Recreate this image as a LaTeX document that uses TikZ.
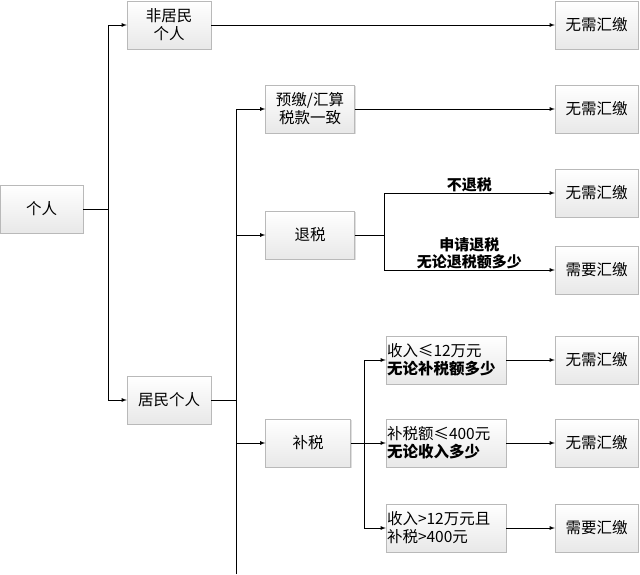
\documentclass[tikz,border=0pt]{standalone}
\usepackage{fontspec}
\setmainfont{Noto Sans CJK SC}
\usetikzlibrary{shapes,arrows,positioning,shadows}

\begin{document}
\begin{tikzpicture}[x=1pt, y=-1pt,
    box/.style={draw=gray!55, top color=white, bottom color=gray!18, minimum height=48pt, inner sep=1pt, align=center, font=\fontsize{15.5}{18}\selectfont, drop shadow={opacity=0.25, shadow xshift=1pt, shadow yshift=-1pt}},
    res/.style={box, minimum width=83pt},
    cond/.style={box, minimum width=120pt, text width=118pt, align=left},
    arrow/.style={-latex, thick},
    link/.style={thick},
    label/.style={font=\bfseries\fontsize{15}{17}\selectfont, align=center}
]
\useasboundingbox (0,0) rectangle (640,574);

\node[box, minimum width=83pt] (person) at (41.5,209) {个人};
\node[box, minimum width=84pt] (nonres) at (169,25) {非居民\\个人};
\node[box, minimum width=84pt] (res) at (169,400) {居民个人};

\node[box, minimum width=89pt] (equal) at (310,109) {预缴/汇算\\税款一致};
\node[box, minimum width=89pt] (refund) at (310,235) {退税};
\node[box, minimum width=85pt] (extra) at (308,443) {补税};

\node[cond] (c1) at (446,360) {收入≤12万元\\\textbf{无论补税额多少}};
\node[cond] (c2) at (446,443) {补税额≤400元\\\textbf{无论收入多少}};
\node[cond] (c3) at (446,528) {收入>12万元且\\补税>400元};

\node[res] (r1) at (596.5,25) {无需汇缴};
\node[res] (r2) at (596.5,109) {无需汇缴};
\node[res] (r3) at (596.5,193) {无需汇缴};
\node[res] (r4) at (596.5,270) {需要汇缴};
\node[res] (r5) at (596.5,360) {无需汇缴};
\node[res] (r6) at (596.5,443) {无需汇缴};
\node[res] (r7) at (596.5,528) {需要汇缴};

\coordinate (bottom) at (236,574);

% first level
\draw[link] (person.east) -- (108,209);
\draw[arrow] (108,400) |- (nonres.west);
\draw[arrow] (108,209) |- (res.west);
\draw[arrow] (nonres.east) -- (r1.west);

% resident branches
\draw[link] (res.east) -- (236,400);
\draw[arrow] (bottom) |- (equal.west);
\draw[arrow] (236,235) -- (refund.west);
\draw[arrow] (236,443) -- (extra.west);
\draw[arrow] (equal.east) -- (r2.west);

% refund
\draw[link] (refund.east) -- (384,235);
\draw[arrow] (384,235) |- node[label, pos=0.75, above, inner sep=1pt] {不退税} (r3.west);
\draw[arrow] (384,235) |- node[label, pos=0.75, above, inner sep=1pt] {申请退税\\无论退税额多少} (r4.west);

% extra tax
\draw[link] (extra.east) -- (364,443);
\draw[arrow] (364,443) |- (c1.west);
\draw[arrow] (364,443) -- (c2.west);
\draw[arrow] (364,443) |- (c3.west);
\draw[arrow] (c1.east) -- (r5.west);
\draw[arrow] (c2.east) -- (r6.west);
\draw[arrow] (c3.east) -- (r7.west);
\end{tikzpicture}
\end{document}
